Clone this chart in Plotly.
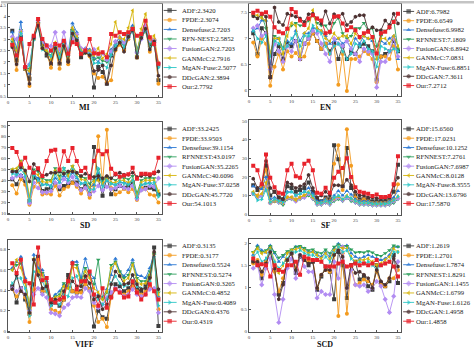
import plotly.graph_objects as go

# ---------------------------------------------------------------- data
methods = ["ADF", "FPDE", "Densefuse", "RFNNEST", "FusionGAN",
           "GANMcC", "MgAN-Fuse", "DDcGAN", "Our"]
image_ids = list(range(1, 36))

# MI
mi_adf = [3.37,2.07,3.08,1.70,1.27,3.08,3.66,2.79,2.28,1.92,2.64,1.92,2.79,2.07,3.37,2.93,2.21,2.50,2.36,0.88,1.78,1.56,1.05,2.28,2.64,2.79,2.57,3.15,3.44,2.21,3.15,3.51,2.72,2.93,1.20]
mi_fpde = [2.80,1.65,2.95,1.70,0.95,3.00,3.70,2.60,2.40,1.75,2.55,1.70,2.65,1.90,3.20,2.80,2.30,2.40,2.25,1.50,1.30,1.35,1.10,1.20,2.50,2.75,2.50,3.00,3.50,2.20,3.05,3.35,2.45,3.00,1.05]
mi_densefuse = [3.30,2.60,3.75,1.80,1.50,3.10,3.75,2.85,2.75,2.45,2.70,2.35,2.80,2.40,3.70,3.30,2.40,2.60,2.55,2.20,2.00,2.40,2.10,2.55,2.80,3.10,2.80,3.20,3.60,2.50,3.20,3.55,2.90,2.90,1.85]
mi_rfnnest = [2.90,2.30,3.40,1.75,1.70,3.00,3.70,2.65,2.45,2.30,2.75,2.15,2.90,2.25,3.40,3.05,2.35,2.55,2.45,2.10,2.20,2.05,2.00,2.50,2.85,3.05,2.75,3.15,3.50,2.50,3.15,3.50,2.80,2.90,1.85]
mi_fusiongan = [3.10,3.00,3.35,1.75,1.90,3.05,3.80,2.90,2.60,2.70,3.30,2.55,3.30,2.50,3.00,3.20,2.60,2.55,2.40,2.55,2.35,2.40,2.10,2.45,2.90,3.05,2.85,3.10,3.45,2.40,3.00,3.60,2.95,2.95,1.95]
mi_ganmcc = [3.00,2.50,3.30,1.70,1.60,3.10,3.80,2.70,2.50,2.10,2.85,2.30,2.85,2.20,3.50,3.10,2.50,2.45,2.50,2.30,2.60,2.15,2.35,2.80,3.75,3.05,3.00,3.50,4.25,2.30,3.45,4.10,3.00,3.15,1.95]
mi_mganfuse = [2.80,2.25,3.25,1.75,1.85,2.95,3.60,2.55,2.35,2.25,2.70,2.20,2.75,2.30,3.30,3.00,2.45,2.40,2.35,1.95,1.95,1.90,1.75,2.30,2.70,2.90,2.65,3.05,3.35,2.35,3.05,3.35,2.65,2.75,1.75]
mi_ddcgan = [2.65,1.90,3.05,1.75,1.05,3.05,3.60,2.60,2.35,1.95,2.60,1.95,2.70,2.00,3.25,2.95,2.25,2.40,2.30,1.60,1.65,1.85,1.05,1.85,2.55,2.85,2.45,3.10,3.40,2.20,3.05,3.45,2.55,2.90,1.40]
mi_our = [2.76,2.28,3.01,1.78,2.79,3.15,3.88,3.01,2.72,2.50,2.79,2.72,2.93,2.36,2.86,2.79,2.36,2.50,3.01,2.38,2.36,2.43,2.21,3.22,3.15,3.30,3.22,3.30,3.44,3.15,3.22,3.80,3.08,2.79,1.92]
mi_means = ["2.3420", "2.3074", "2.7203", "2.5852", "2.7203", "2.7916", "2.5077", "2.3894", "2.7792"]

# EN
en_adf = [7.10,6.70,7.20,7.10,6.25,6.70,6.85,6.60,6.90,6.85,6.95,6.60,6.90,7.00,7.10,6.95,6.80,6.90,6.75,6.90,6.60,6.85,6.60,6.75,6.70,6.85,6.90,6.85,6.75,6.20,6.65,6.70,6.75,6.95,6.75]
en_fpde = [6.92,6.65,7.00,6.90,6.08,6.45,6.70,6.40,6.75,6.65,6.72,6.60,6.65,6.90,7.10,6.95,6.80,6.90,6.70,6.85,6.10,6.70,5.98,6.60,6.60,6.65,6.75,6.70,6.60,6.15,6.65,6.65,6.60,6.85,6.40]
en_densefuse = [7.15,7.20,7.35,7.35,6.50,6.95,7.00,6.80,6.95,6.90,7.15,6.95,7.10,7.10,7.20,7.20,7.15,7.05,6.90,6.95,7.00,6.90,6.95,6.80,7.00,6.90,7.05,7.00,6.95,6.60,6.95,6.90,7.00,7.05,6.60]
en_rfnnest = [7.45,7.40,7.45,7.20,6.70,7.05,7.00,6.80,7.20,7.25,7.30,7.25,7.25,7.35,7.45,7.30,7.25,7.25,7.10,7.30,7.40,7.10,7.00,7.05,7.20,7.20,7.30,7.15,7.20,6.85,7.05,7.15,7.20,7.35,6.80]
en_fusiongan = [7.20,7.25,7.05,7.10,6.40,6.90,6.75,6.55,6.85,6.75,6.95,6.60,6.90,7.00,7.15,7.10,6.90,6.70,6.55,7.00,6.90,6.85,6.95,6.80,6.70,6.55,6.80,6.75,6.70,6.05,6.55,6.55,6.75,7.00,6.65]
en_ganmcc = [7.45,7.45,7.40,7.35,6.70,7.00,7.00,6.70,7.05,7.30,7.25,6.65,7.10,7.20,7.55,7.20,7.15,7.00,6.95,7.10,7.00,7.05,7.05,6.90,7.10,7.00,7.05,7.00,7.00,6.60,7.00,7.00,6.90,7.05,6.85]
en_mganfuse = [7.15,7.00,6.92,7.05,6.65,6.95,6.90,6.80,6.85,7.00,7.10,6.85,7.05,7.05,7.25,7.15,7.10,6.85,6.70,6.85,6.90,6.75,6.60,6.70,6.90,6.85,6.95,6.80,6.75,6.45,6.85,6.80,6.75,6.80,6.75]
en_ddcgan = [7.43,7.39,7.48,7.42,6.24,7.60,7.32,7.26,7.48,7.45,7.42,7.39,7.32,7.47,7.48,7.39,7.29,7.53,7.29,7.47,7.42,7.48,7.26,7.32,7.42,7.45,7.45,7.16,7.22,7.16,7.16,7.35,7.26,7.48,7.29]
en_our = [7.50,7.54,7.48,7.51,7.42,7.22,7.13,7.10,7.19,7.57,7.51,7.35,7.26,7.39,7.45,7.39,7.35,7.10,7.13,7.42,7.43,7.29,7.16,7.22,7.16,7.03,7.10,7.13,7.03,6.71,7.10,7.13,7.22,7.32,7.48]
en_means = ["6.7982", "6.6549", "6.9982", "7.1809", "6.8942", "7.0831", "6.8851", "7.3611", "7.2712"]

# SD
sd_adf = [41.0,36.4,44.0,39.4,20.6,42.4,41.0,30.3,31.8,33.3,36.4,31.8,34.8,36.4,37.9,37.9,31.8,34.8,27.3,70.6,41.0,25.8,42.4,27.3,31.8,34.8,33.3,34.8,37.9,24.2,31.8,33.3,33.3,31.8,27.3]
sd_fpde = [35.5,28.0,41.0,36.0,17.6,34.0,39.0,27.0,28.0,27.0,35.0,26.0,32.0,34.0,37.5,34.0,28.0,33.0,24.0,35.0,80.3,38.0,86.4,33.0,27.0,29.0,32.0,29.0,32.0,22.0,33.0,32.0,27.0,26.0,19.7]
sd_densefuse = [48,47,45,42,20,45,42,36,37,35,42,38,44,40,47,42,37,38,33,36,46,36,40,37,36,38,38,37,40,27,36,37,38,35,27]
sd_rfnnest = [50,48,58,47,22,50,48,42,40,40,51,44,51,46,53,47,43,42,37,40,50,40,43,42,40,43,42,41,44,28,40,42,42,42,26]
sd_fusiongan = [42,44,44,42,19,38,33,29,29,30,38,34,41,38,43,36,31,33,27,30,35,31,34,32,33,35,33,32,35,23,31,32,35,34,42]
sd_ganmcc = [50,51,57,48,25,47,45,39,38,39,49,41,48,44,53,45,41,40,33,39,40,37,42,38,38,40,40,38,40,26,38,40,40,40,30]
sd_mganfuse = [46,45,50,44,21,45,40,36,36,34,46,38,51,40,50,43,37,38,31,32,51,34,40,37,36,39,37,36,40,24,36,37,37,38,25]
sd_ddcgan = [48,48,52,49,39,55,50,44,45,47,47,48,46,48,48,47,44,46,44,43,44,42,44,42,45,47,45,45,47,43,44,45,44,46,48]
sd_our = [69.7,66.0,54.5,60.6,51.5,47.0,51.0,44.0,57.6,67.0,68.0,50.0,66.6,57.6,69.7,57.6,48.5,51.5,42.4,57.6,67.0,64.0,66.6,50.6,46.0,43.3,44.5,45.5,51.5,41.5,46.0,46.0,45.5,47.0,60.6]
sd_means = ["33.2425", "33.9503", "39.1154", "43.0197", "35.2265", "40.6096", "37.0258", "45.7720", "54.1013"]

# SF
sf_adf = [15.5,13,15,26,10,12,9,8,15,14,12,13,14,17,12,8,7,9,8,37,29.5,15,35.5,14,10,8,8,8,7,7,7,7,8,12,26.5]
sf_fpde = [11,10,15,24,6,7,8,6,9,9,8,9,10,11,10,6,6,8,7,27,37,13,45.5,26,9,7,8,7,6,6,6,6,7,8,16]
sf_densefuse = [15,14,13.5,20,8,9,8,7,12,12,10,11,12,14,11,7,7,8,7,10,12.5,10,12.5,10.5,8,7,7,7,6,6,6,6,7,9,12.5]
sf_rfnnest = [11.5,9,9.5,14,6,7,6,5,8,8,7,8,9,10,8,5,5,6,5,7,8,7,8.5,7,6,5,5,5,4.5,4.5,4.5,4.5,5,6,8]
sf_fusiongan = [11,9,10,15,6,7.5,6.5,6,8.5,8.5,7,8.5,9,11,8.5,5.5,5.5,6.5,5.5,8,9,7.5,9,8,6.5,5.5,5.5,5.5,5,5,5,5,5.5,7,8.5]
sf_ganmcc = [12,9.5,11,17,6.5,7.5,7,6,9,9,7.5,9,10,12,9,6,6,7,6,8.5,9.5,8,10,8.5,7,6,6,6,5.5,5.5,5.5,5.5,6,7.5,9.5]
sf_mganfuse = [11,7.5,8,13,6.5,8,7,6.5,11.5,12,10,11,12,11.5,10,6,6,7,6,9,10,8,9.5,8.5,7,6,6,6,5.5,5.5,5.5,5.5,6,7.5,9.5]
sf_ddcgan = [19,14,16,28.5,14,12,9,8,17,16,14,15,16,21,14,9,10,12,10,15.5,15.5,15,18.5,15.5,12,10,10,9,9,8.5,8.5,8.5,9,15.5,19.5]
sf_our = [26,23.6,16,32,19.5,14.5,11.5,11,23.6,27,20.4,19.5,27,28.7,23.6,11.5,11,14.2,11.5,19.5,22.7,24.8,30,20,14.5,12,11.5,11,9.8,10.6,9.2,9.2,9.8,16,31]
sf_means = ["15.6560", "17.0231", "10.1252", "7.2761", "7.6987", "8.0128", "8.3555", "13.6796", "17.5870"]

# VIFF
viff_adf = [0.44,0.28,0.42,0.31,0.17,0.46,0.73,0.39,0.44,0.26,0.28,0.25,0.31,0.55,0.39,0.38,0.39,0.49,0.41,0.045,0.20,0.135,0.12,0.34,0.46,0.44,0.39,0.42,0.47,0.41,0.39,0.44,0.54,0.82,0.05]
viff_fpde = [0.41,0.34,0.41,0.33,0.09,0.41,0.70,0.39,0.39,0.215,0.20,0.18,0.31,0.505,0.39,0.38,0.38,0.46,0.41,0.25,0.09,0.12,0.04,0.33,0.41,0.38,0.36,0.39,0.44,0.39,0.36,0.39,0.44,0.76,0.215]
viff_densefuse = [0.62,0.68,0.73,0.52,0.215,0.75,0.62,0.60,0.49,0.31,0.36,0.39,0.46,0.44,0.68,0.68,0.52,0.71,0.57,0.52,0.36,0.33,0.41,0.55,0.71,0.585,0.54,0.60,0.70,0.55,0.54,0.52,0.62,0.76,0.34]
viff_rfnnest = [0.60,0.65,0.665,0.49,0.23,0.70,0.60,0.57,0.46,0.30,0.34,0.36,0.47,0.42,0.65,0.65,0.49,0.62,0.55,0.46,0.70,0.31,0.38,0.65,0.68,0.585,0.52,0.55,0.665,0.52,0.49,0.49,0.585,0.76,0.38]
viff_fusiongan = [0.42,0.39,0.42,0.36,0.20,0.36,0.42,0.36,0.33,0.18,0.17,0.15,0.23,0.26,0.33,0.34,0.33,0.42,0.39,0.28,0.23,0.26,0.33,0.38,0.42,0.39,0.34,0.36,0.41,0.36,0.34,0.36,0.41,0.42,0.18]
viff_ganmcc = [0.60,0.70,0.62,0.47,0.25,0.71,0.585,0.55,0.44,0.30,0.33,0.34,0.44,0.42,0.63,0.62,0.47,0.585,0.52,0.42,0.38,0.31,0.39,0.62,0.665,0.55,0.49,0.52,0.65,0.49,0.46,0.47,0.55,0.75,0.36]
viff_mganfuse = [0.47,0.52,0.52,0.42,0.15,0.585,0.55,0.49,0.39,0.25,0.28,0.26,0.36,0.34,0.52,0.54,0.44,0.52,0.47,0.34,0.31,0.26,0.31,0.47,0.54,0.47,0.44,0.46,0.55,0.44,0.42,0.42,0.49,0.73,0.25]
viff_ddcgan = [0.41,0.55,0.39,0.36,0.18,0.70,0.55,0.42,0.44,0.28,0.31,0.31,0.39,0.52,0.49,0.44,0.44,0.54,0.47,0.31,0.34,0.215,0.26,0.46,0.585,0.54,0.46,0.47,0.55,0.46,0.41,0.42,0.52,0.78,0.41]
viff_our = [0.665,0.57,0.70,0.49,0.47,0.26,0.82,0.50,0.52,0.31,0.28,0.31,0.33,0.49,0.665,0.41,0.49,0.49,0.585,0.36,0.25,0.42,0.23,0.33,0.41,0.38,0.33,0.34,0.49,0.38,0.31,0.36,0.46,0.39,0.31]
viff_means = ["0.3135", "0.3177", "0.5524", "0.5274", "0.3265", "0.4852", "0.4089", "0.4376", "0.4319"]

# SCD
scd_adf = [1.59,1.55,1.21,1.59,1.89,1.40,0.84,1.10,1.63,1.78,1.33,1.70,1.63,1.51,1.59,0.95,1.25,1.48,1.36,0.73,1.81,1.51,0.76,1.51,1.59,1.18,1.25,1.03,0.95,1.51,1.10,1.03,1.14,1.74,1.10]
scd_fpde = [1.55,1.63,1.29,1.59,1.89,1.36,0.91,1.21,1.63,1.81,1.44,1.74,1.66,1.59,1.63,0.99,1.29,1.40,1.36,1.74,0.35,1.78,0.40,1.48,1.06,1.10,1.18,1.14,1.06,1.36,1.06,1.03,1.21,1.21,1.40]
scd_densefuse = [1.75,1.96,1.85,1.80,1.96,1.78,1.59,1.70,1.80,1.85,1.93,1.93,1.89,1.81,1.83,1.75,1.70,1.81,1.70,1.89,2.00,1.93,1.96,1.78,1.70,1.66,1.70,1.74,1.70,1.66,1.63,1.66,1.74,1.93,1.93]
scd_rfnnest = [1.81,1.93,1.81,1.85,1.95,1.81,1.68,1.74,1.83,1.87,1.93,1.95,1.90,1.85,1.87,1.80,1.78,1.87,1.78,1.93,1.98,1.95,1.95,1.87,1.80,1.81,1.80,1.83,1.80,1.74,1.72,1.78,1.85,1.96,1.93]
scd_fusiongan = [1.44,1.51,1.06,1.44,1.66,0.84,0.20,0.73,1.44,1.66,1.21,1.74,1.48,1.36,1.36,0.76,0.91,0.84,0.84,1.59,1.21,1.93,0.99,1.40,1.06,1.03,1.06,0.91,0.99,1.14,1.03,0.73,0.43,0.80,1.59]
scd_ganmcc = [1.80,1.89,1.78,1.81,1.90,1.59,1.33,1.51,1.78,1.85,1.87,1.90,1.85,1.78,1.81,1.74,1.66,1.78,1.65,1.85,1.93,1.90,1.89,1.70,1.59,1.63,1.63,1.66,1.59,1.51,1.55,1.63,1.70,1.89,1.81]
scd_mganfuse = [1.70,1.81,1.59,1.66,1.85,1.59,1.44,1.55,1.66,1.81,1.81,1.85,1.78,1.74,1.74,1.66,1.59,1.70,1.59,1.78,1.93,1.81,1.85,1.66,1.55,1.59,1.55,1.59,1.51,1.40,1.51,1.55,1.59,1.81,1.81]
scd_ddcgan = [1.59,1.59,1.36,1.55,1.81,1.44,0.73,1.06,1.63,1.78,1.40,1.74,1.63,1.55,1.59,0.99,1.29,1.40,1.40,1.74,1.85,1.70,0.99,1.51,1.33,1.36,1.29,1.21,0.99,1.40,1.14,1.06,1.21,1.66,1.48]
scd_our = [1.66,1.51,1.53,1.51,1.25,1.51,1.40,1.36,1.51,1.51,1.59,1.29,1.70,1.66,1.63,1.63,1.59,1.48,1.48,1.48,1.55,1.59,1.48,1.51,1.55,1.51,1.55,1.51,1.55,1.63,1.51,1.55,1.59,1.48,1.25]
scd_means = ["1.2619", "1.2701", "1.7874", "1.8291", "1.1455", "1.6799", "1.6126", "1.4958", "1.4858"]

# ---------------------------------------------------------------- style
colors = ["#3c3c3c", "#f39b1f", "#2b78d4", "#2d9f5c", "#b28cf2",
          "#d6b40a", "#2cc6c6", "#4d3232", "#e8222b"]
symbols = ["square", "circle", "triangle-up", "triangle-down", "diamond",
           "triangle-left", "triangle-right", "hexagon", "square"]
FONT = "Liberation Serif"
W, H = 474, 348

# panel boxes in pixels: (left, right, top, bottom)
# legend: (line start, marker, line end, text start, first row, row step)
panels = [
    dict(name="MI", series=[mi_adf, mi_fpde, mi_densefuse, mi_rfnnest, mi_fusiongan, mi_ganmcc, mi_mganfuse, mi_ddcgan, mi_our],
         means=mi_means, names=methods[:3] + ["RFN-NEST"] + methods[4:],
         box=(7, 161, 3, 97), yrange=[0.46, 4.54], ytick0=0.5, dtick=0.5,
         legend=(163, 169, 176, 180, 9.5, 9.6), title_y=107),
    dict(name="EN", series=[en_adf, en_fpde, en_densefuse, en_rfnnest, en_fusiongan, en_ganmcc, en_mganfuse, en_ddcgan, en_our],
         means=en_means, names=methods,
         box=(248.5, 401, 3, 96), yrange=[5.88, 7.67], ytick0=6.0, dtick=0.5,
         legend=(403, 408.5, 414, 415, 10.5, 9.35), title_y=107),
    dict(name="SD", series=[sd_adf, sd_fpde, sd_densefuse, sd_rfnnest, sd_fusiongan, sd_ganmcc, sd_mganfuse, sd_ddcgan, sd_our],
         means=sd_means, names=methods,
         box=(7, 161, 122, 215), yrange=[9.0, 93.5], ytick0=10, dtick=10,
         legend=(163, 169, 176, 180, 129, 9.4), title_y=226),
    dict(name="SF", series=[sf_adf, sf_fpde, sf_densefuse, sf_rfnnest, sf_fusiongan, sf_ganmcc, sf_mganfuse, sf_ddcgan, sf_our],
         means=sf_means, names=methods,
         box=(248.5, 401, 120, 216), yrange=[-0.5, 50.5], ytick0=0, dtick=10,
         legend=(403, 408.5, 414, 415, 129, 9.4), title_y=226),
    dict(name="VIFF", series=[viff_adf, viff_fpde, viff_densefuse, viff_rfnnest, viff_fusiongan, viff_ganmcc, viff_mganfuse, viff_ddcgan, viff_our],
         means=viff_means, names=methods,
         box=(7, 161, 241, 334), yrange=[-0.01, 0.895], ytick0=0, dtick=0.2,
         legend=(163, 169, 176, 180, 247, 9.5), title_y=346),
    dict(name="SCD", series=[scd_adf, scd_fpde, scd_densefuse, scd_rfnnest, scd_fusiongan, scd_ganmcc, scd_mganfuse, scd_ddcgan, scd_our],
         means=scd_means, names=methods,
         box=(248.5, 401, 240, 334), yrange=[-0.02, 2.11], ytick0=0, dtick=0.5,
         legend=(403, 408.5, 414, 415, 247, 9.5), title_y=346),
]

fig = go.Figure()
annotations = []
axis_common = dict(showline=True, mirror=True, linecolor="#555", linewidth=0.8,
                   ticks="inside", ticklen=2, tickwidth=0.6, tickcolor="#555",
                   showgrid=False, zeroline=False,
                   tickfont=dict(family=FONT, size=5, color="#444"))

for k, p in enumerate(panels, start=1):
    xa = "x" if k == 1 else f"x{k}"
    ya = "y" if k == 1 else f"y{k}"
    left, right, top, bottom = p["box"]
    fig.update_layout({
        ("xaxis" if k == 1 else f"xaxis{k}"): dict(
            domain=[left / W, right / W], anchor=ya, range=[0, 35.75],
            tick0=0, dtick=5, **axis_common),
        ("yaxis" if k == 1 else f"yaxis{k}"): dict(
            domain=[1 - bottom / H, 1 - top / H], anchor=xa, range=p["yrange"],
            tick0=p["ytick0"], dtick=p["dtick"], **axis_common),
    })
    for vals, c, s in zip(p["series"], colors, symbols):
        fig.add_trace(go.Scatter(
            x=image_ids, y=vals, xaxis=xa, yaxis=ya, mode="lines+markers",
            line=dict(color=c, width=0.9),
            marker=dict(symbol=s, size=4, color=c, line=dict(width=0)),
            showlegend=False, hoverinfo="skip"))
    annotations.append(dict(
        xref="x7", yref="y7", x=(left + right) / 2, y=p["title_y"],
        text=f"<b>{p['name']}</b>", showarrow=False,
        font=dict(family=FONT, size=8, color="#111")))

# per-panel legends, laid out on a pixel-scaled overlay axis
fig.update_layout(
    xaxis7=dict(domain=[0, 1], range=[0, W], visible=False, anchor="y7"),
    yaxis7=dict(domain=[0, 1], range=[H, 0], visible=False, anchor="x7"),
)
for p in panels:
    lx0, lxm, lx1, tx, row0, step = p["legend"]
    for j, (c, s, nm, mv) in enumerate(zip(colors, symbols, p["names"], p["means"])):
        ry = row0 + j * step
        fig.add_trace(go.Scatter(
            x=[lx0, lxm, lx1], y=[ry, ry, ry], xaxis="x7", yaxis="y7",
            mode="lines+markers", line=dict(color=c, width=0.9),
            marker=dict(symbol=s, size=[0, 4.5, 0], color=c, line=dict(width=0)),
            showlegend=False, hoverinfo="skip"))
        annotations.append(dict(
            xref="x7", yref="y7", x=tx, y=ry, xanchor="left", yanchor="middle",
            text=f"{nm}:{mv}", showarrow=False, borderpad=0,
            font=dict(family=FONT, size=6.7, color="#222")))

fig.update_layout(
    width=W, height=H, margin=dict(l=0, r=0, t=0, b=0),
    paper_bgcolor="white", plot_bgcolor="rgba(0,0,0,0)",
    showlegend=False, annotations=annotations,
    shapes=[dict(type="rect", xref="paper", yref="paper", x0=0, x1=1,
                 y0=1 - 2.5 / H, y1=1, fillcolor="#c4c4c4", line=dict(width=0),
                 layer="above")],
)

fig.write_html("out.html")
